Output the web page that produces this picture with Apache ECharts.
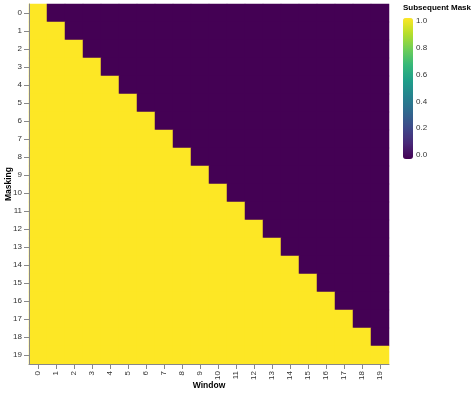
<!DOCTYPE html>
<html>
<head>
<meta charset="utf-8">
<script src="https://cdn.jsdelivr.net/npm/echarts@6/dist/echarts.min.js"></script>
<style>
  html, body { margin: 0; padding: 0; background: #fff; }
  #chart { width: 474px; height: 393px; }
</style>
</head>
<body>
<div id="chart"></div>
<script>
// axis categories
var windowLabels = ['0','1','2','3','4','5','6','7','8','9','10','11','12','13','14','15','16','17','18','19'];
var maskingLabels = ['0','1','2','3','4','5','6','7','8','9','10','11','12','13','14','15','16','17','18','19'];

// subsequent mask, one row per masking position
var maskRows = [
  [1,0,0,0,0,0,0,0,0,0,0,0,0,0,0,0,0,0,0,0],
  [1,1,0,0,0,0,0,0,0,0,0,0,0,0,0,0,0,0,0,0],
  [1,1,1,0,0,0,0,0,0,0,0,0,0,0,0,0,0,0,0,0],
  [1,1,1,1,0,0,0,0,0,0,0,0,0,0,0,0,0,0,0,0],
  [1,1,1,1,1,0,0,0,0,0,0,0,0,0,0,0,0,0,0,0],
  [1,1,1,1,1,1,0,0,0,0,0,0,0,0,0,0,0,0,0,0],
  [1,1,1,1,1,1,1,0,0,0,0,0,0,0,0,0,0,0,0,0],
  [1,1,1,1,1,1,1,1,0,0,0,0,0,0,0,0,0,0,0,0],
  [1,1,1,1,1,1,1,1,1,0,0,0,0,0,0,0,0,0,0,0],
  [1,1,1,1,1,1,1,1,1,1,0,0,0,0,0,0,0,0,0,0],
  [1,1,1,1,1,1,1,1,1,1,1,0,0,0,0,0,0,0,0,0],
  [1,1,1,1,1,1,1,1,1,1,1,1,0,0,0,0,0,0,0,0],
  [1,1,1,1,1,1,1,1,1,1,1,1,1,0,0,0,0,0,0,0],
  [1,1,1,1,1,1,1,1,1,1,1,1,1,1,0,0,0,0,0,0],
  [1,1,1,1,1,1,1,1,1,1,1,1,1,1,1,0,0,0,0,0],
  [1,1,1,1,1,1,1,1,1,1,1,1,1,1,1,1,0,0,0,0],
  [1,1,1,1,1,1,1,1,1,1,1,1,1,1,1,1,1,0,0,0],
  [1,1,1,1,1,1,1,1,1,1,1,1,1,1,1,1,1,1,0,0],
  [1,1,1,1,1,1,1,1,1,1,1,1,1,1,1,1,1,1,1,0],
  [1,1,1,1,1,1,1,1,1,1,1,1,1,1,1,1,1,1,1,1]
];

// legend scale
var legendMin = 0;
var legendMax = 1;
var legendStep = 0.2;

var viridis = ['#440154','#482878','#3e4989','#31688e','#26828e','#1f9e89','#35b779','#6ece58','#b5de2b','#fde725'];

var heatData = [];
maskRows.forEach(function (row, y) {
  row.forEach(function (v, x) {
    heatData.push([x, y, v]);
  });
});

var font = "'Liberation Sans', Arial, sans-serif";
var chart = echarts.init(document.getElementById('chart'));

var option = {
  animation: false,
  textStyle: { fontFamily: font },
  grid: [
    { left: 29, top: 4, width: 360, height: 360, outerBoundsMode: 'none', containLabel: false },
    { left: 403, top: 21, width: 10, height: 134, outerBoundsMode: 'none', containLabel: false }
  ],
  xAxis: [
    {
      type: 'category',
      gridIndex: 0,
      z: 5,
      data: windowLabels,
      name: 'Window',
      nameLocation: 'middle',
      nameGap: 22,
      nameMoveOverlap: false,
      nameTextStyle: { fontWeight: 'bold', fontSize: 8.5, color: '#000', fontFamily: font, verticalAlign: 'middle' },
      axisLine: { show: true, onZero: false, lineStyle: { color: '#888', width: 1 } },
      axisTick: { show: true, alignWithLabel: true, length: 5, lineStyle: { color: '#888', width: 1 } },
      axisLabel: { rotate: 90, fontSize: 8, color: '#333', margin: 7, interval: 0, fontFamily: font },
      splitLine: { show: false }
    },
    { type: 'value', gridIndex: 1, show: false, min: 0, max: 1 }
  ],
  yAxis: [
    {
      type: 'category',
      gridIndex: 0,
      z: 5,
      data: maskingLabels,
      inverse: true,
      name: 'Masking',
      nameLocation: 'middle',
      nameGap: 20,
      nameMoveOverlap: false,
      nameRotate: 90,
      nameTextStyle: { fontWeight: 'bold', fontSize: 8.5, color: '#000', fontFamily: font, verticalAlign: 'middle' },
      axisLine: { show: true, onZero: false, lineStyle: { color: '#888', width: 1 } },
      axisTick: { show: true, alignWithLabel: true, length: 5, lineStyle: { color: '#888', width: 1 } },
      axisLabel: { fontSize: 8, color: '#333', margin: 7, interval: 0, fontFamily: font },
      splitLine: { show: false }
    },
    {
      type: 'value',
      gridIndex: 1,
      position: 'right',
      min: legendMin,
      max: legendMax,
      interval: legendStep,
      axisLine: { show: false },
      axisTick: { show: false },
      splitLine: { show: false },
      axisLabel: {
        fontSize: 8, color: '#333', margin: 3, fontFamily: font,
        formatter: function (v) { return v.toFixed(1); }
      }
    }
  ],
  visualMap: {
    type: 'continuous',
    seriesIndex: 0,
    min: legendMin,
    max: legendMax,
    calculable: false,
    left: 403,
    top: 18,
    padding: 0,
    itemWidth: 10,
    itemHeight: 141,
    text: null,
    inRange: { color: viridis }
  },
  title: {
    text: 'Subsequent Mask',
    left: 403,
    top: 4,
    padding: 0,
    textStyle: { fontSize: 8, fontWeight: 'bold', color: '#000', fontFamily: font }
  },
  series: [
    {
      type: 'heatmap',
      xAxisIndex: 0,
      yAxisIndex: 0,
      data: heatData,
      itemStyle: { borderWidth: 0 },
      emphasis: { disabled: true }
    },
    {
      type: 'line',
      xAxisIndex: 1,
      yAxisIndex: 1,
      data: [],
      silent: true
    }
  ]
};

chart.setOption(option);
window.addEventListener('resize', function () { chart.resize(); });
</script>
</body>
</html>
